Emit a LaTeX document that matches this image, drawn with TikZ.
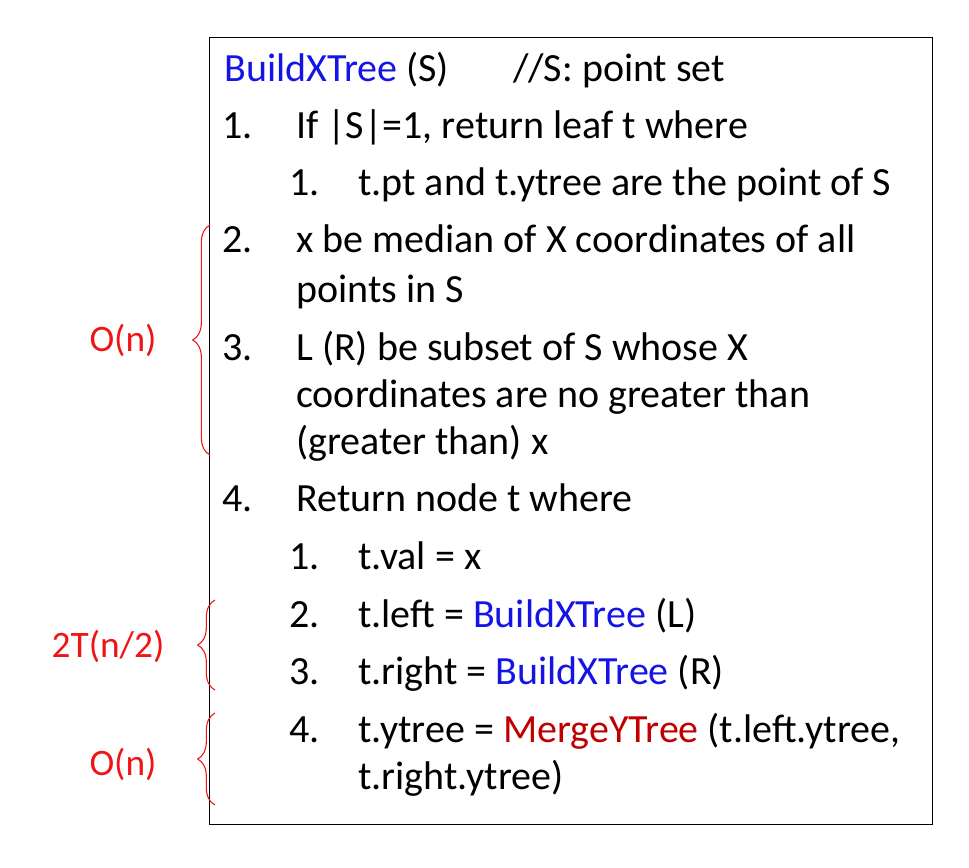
\documentclass[tikz,border=0pt]{standalone}
\usepackage{fontspec}
\setmainfont{Carlito}
\usetikzlibrary{decorations.pathreplacing}
\definecolor{kblue}{RGB}{20,20,230}
\definecolor{kdred}{RGB}{192,0,0}
\definecolor{kred}{RGB}{240,20,20}
\begin{document}
\begin{tikzpicture}[x=0.75pt,y=-0.75pt,
  t/.style={anchor=base west,inner sep=0pt,font=\fontsize{30}{36}\selectfont},
  r/.style={anchor=center,inner sep=0pt,text=kred,font=\fontsize{28}{34}\selectfont},
  br/.style={draw=kred,line width=0.8pt,decoration={brace,amplitude=13pt},decorate}]
\useasboundingbox (0,0) rectangle (969,867);
\node[draw,line width=0.8pt,minimum width=723*0.75pt,minimum height=787*0.75pt,inner sep=0pt,anchor=north west] (box) at (209,37) {};
\node[t] (l1) at (224,81) {\textcolor{kblue}{BuildXTree} (S)\hspace{1.6em}//S: point set};
\node[t] (n2) at (222,138) {1.}; \node[t] (l2) at (296,138) {If |S|=1, return leaf t where};
\node[t] (n3) at (289,195) {1.}; \node[t] (l3) at (358,195) {t.pt and t.ytree are the point of S};
\node[t] (n4) at (222,252) {2.}; \node[t] (l4) at (296,252) {x be median of X coordinates of all};
\node[t] (l5) at (296,302) {points in S};
\node[t] (n6) at (222,360) {3.}; \node[t] (l6) at (296,360) {L (R) be subset of S whose X};
\node[t] (l7) at (296,407) {coordinates are no greater than};
\node[t] (l8) at (296,454) {(greater than) x};
\node[t] (n9) at (222,511) {4.}; \node[t] (l9) at (296,511) {Return node t where};
\node[t] (n10) at (289,569) {1.}; \node[t] (l10) at (358,569) {t.val = x};
\node[t] (n11) at (289,627) {2.}; \node[t] (l11) at (358,627) {t.left = \textcolor{kblue}{BuildXTree} (L)};
\node[t] (n12) at (289,684) {3.}; \node[t] (l12) at (358,684) {t.right = \textcolor{kblue}{BuildXTree} (R)};
\node[t] (n13) at (289,742) {4.}; \node[t] (l13) at (358,742) {t.ytree = \textcolor{kdred}{MergeYTree} (t.left.ytree,};
\node[t] (l14) at (358,789) {t.right.ytree)};
\coordinate (a1) at (210,455); \coordinate (a2) at (210,225);
\coordinate (b1) at (215,690); \coordinate (b2) at (215,600);
\coordinate (c1) at (215,805); \coordinate (c2) at (215,713);
\draw[br] (a1) -- (a2);
\draw[br] (b1) -- (b2);
\draw[br] (c1) -- (c2);
\node[r] (o1) at (123,340) {O(n)};
\node[r] (o2) at (108,646) {2T(n/2)};
\node[r] (o3) at (123,764) {O(n)};
\end{tikzpicture}
\end{document}
